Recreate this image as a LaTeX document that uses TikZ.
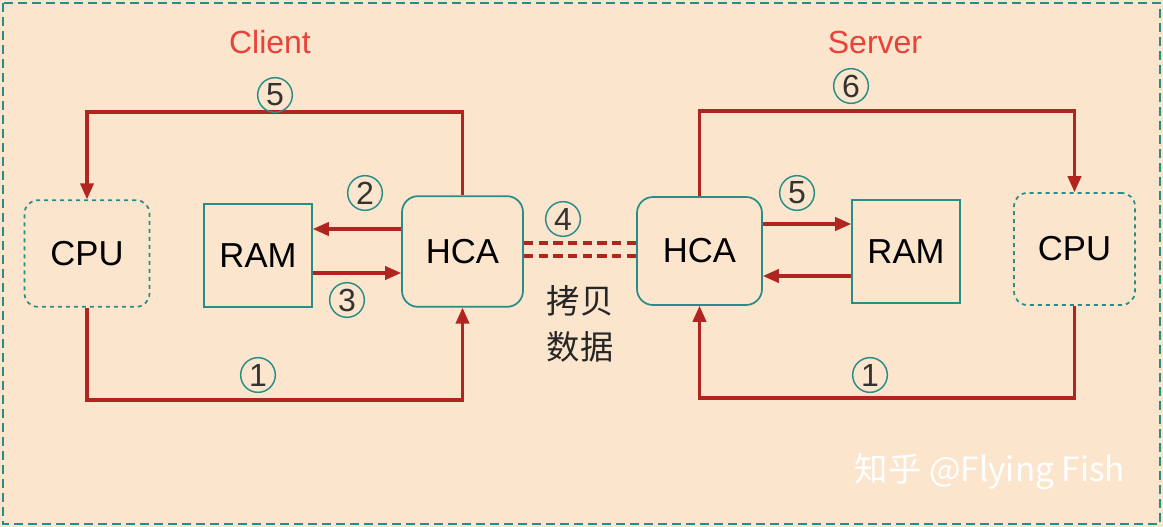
\documentclass[tikz,border=0pt]{standalone}
\usepackage{fontspec}
\setmainfont{Liberation Sans}
\newfontfamily\cjk{Noto Sans CJK SC}
\usetikzlibrary{arrows.meta}
\definecolor{bg}{HTML}{FBE5CC}
\definecolor{teal}{HTML}{2A8C88}
\definecolor{arr}{HTML}{B0251F}
\definecolor{lab}{HTML}{E8423A}
\begin{document}
\begin{tikzpicture}[x=0.75pt,y=-0.75pt,
 box/.style={draw=teal,line width=1.3pt,minimum width=#1*0.75pt,inner sep=0pt,font=\fontsize{26}{30}\selectfont},
 ar/.style={draw=arr,line width=2.3pt,-{Triangle[length=12pt,width=10pt]}},
 num/.style={circle,draw=teal,line width=1.1pt,minimum size=26pt,inner sep=0pt,text=black!80,font=\fontsize{24}{26}\selectfont}]
\useasboundingbox (0,0) rectangle (1163,527);
\fill[bg] (0,0) rectangle (1163,527);
\draw[teal,line width=2.2pt,dash pattern=on 7pt off 3.5pt] (3,3) rectangle (1160,524);
\node[box=125,minimum height=80pt,rounded corners=10pt,dashed] (ccpu) at (87,253.5) {CPU};
\node[box=108,minimum height=77pt] (cram) at (258,255.5) {RAM};
\node[box=121,minimum height=83pt,rounded corners=12pt] (chca) at (462.5,251.5) {HCA};
\node[box=125,minimum height=81pt,rounded corners=12pt] (shca) at (699.5,251) {HCA};
\node[box=108,minimum height=77pt] (sram) at (906,251.5) {RAM};
\node[box=121,minimum height=84pt,rounded corners=10pt,dashed] (scpu) at (1074.5,249) {CPU};
\node[text=lab,font=\fontsize{24}{28}\selectfont] (tc) at (270,42) {Client};
\node[text=lab,font=\fontsize{24}{28}\selectfont] (ts) at (875,42) {Server};
% client
\draw[ar] (chca.north) |- (ccpu.north|-0,112) coordinate (c5) -- (ccpu.north);
\draw[ar] (ccpu.south) |- (300,400) coordinate (c1) -| (chca.south);
\draw[ar] (chca.west|-0,229) coordinate (a2) -- (cram.east|-a2);
\draw[ar] (cram.east|-0,273) coordinate (a3) -- (chca.west|-a3);
% server
\draw[ar] (shca.north) |- (scpu.north|-0,111) coordinate (s6) -- (scpu.north);
\draw[ar] (scpu.south) |- (900,398) coordinate (s1) -| (shca.south);
\draw[ar] (shca.east|-0,224) coordinate (b5) -- (sram.west|-b5);
\draw[ar] (sram.west|-0,276) coordinate (b6) -- (shca.east|-b6);
% link
\draw[arr,line width=2.6pt,dash pattern=on 7pt off 4pt] (chca.east|-0,243) coordinate (l1) -- (shca.west|-l1);
\draw[arr,line width=2.6pt,dash pattern=on 7pt off 4pt] (chca.east|-0,256) coordinate (l2) -- (shca.west|-l2);
\node[font=\cjk\fontsize{25}{34}\selectfont,text=black!85,align=center] (cp) at (580,324) {拷贝\\数据};
\node[num] (n5) at (275,95) {5};
\node[num] (n2) at (365,193) {2};
\node[num] (n3) at (347,300) {3};
\node[num] (n1) at (258,375) {1};
\node[num] (n4) at (563,219) {4};
\node[num] (n6) at (851,86) {6};
\node[num] (n5b) at (797,193) {5};
\node[num] (n1b) at (870,375) {1};
\node[text=white,font=\cjk\fontsize{25}{28}\selectfont] (wm) at (990,472) {知乎 @Flying Fish};
\end{tikzpicture}
\end{document}
